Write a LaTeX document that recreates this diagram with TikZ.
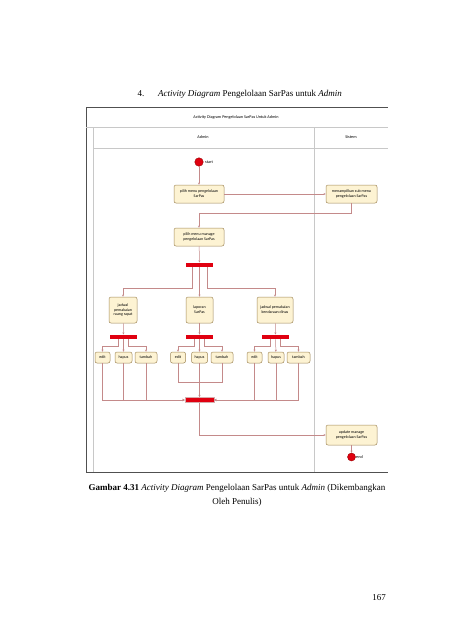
\documentclass[tikz,border=0pt]{standalone}
\usepackage{fontspec}
\setmainfont{Liberation Serif}
\newfontfamily\diagfont{Carlito}
\usetikzlibrary{arrows.meta}
\definecolor{boxfill}{HTML}{FDF3D3}
\definecolor{boxdraw}{HTML}{A08858}
\definecolor{flow}{HTML}{C48A8A}
\definecolor{barred}{HTML}{E00010}
\definecolor{framegray}{HTML}{C8C8C8}
\definecolor{framedark}{HTML}{505050}
\begin{document}
\begin{tikzpicture}[x=1pt,y=-1pt,
  act/.style={draw=boxdraw, fill=boxfill, rounded corners=2pt, line width=0.5pt,
    font=\diagfont\fontsize{4}{4.8}\selectfont, align=center, inner sep=0pt},
  small/.style={act, minimum height=11pt},
  forkbar/.style={fill=barred, draw=none, minimum width=27pt, minimum height=4.5pt, inner sep=0pt},
  flowline/.style={draw=flow, line width=0.5pt, -{Stealth[length=2.2pt,width=2pt]}},
  plain/.style={draw=flow, line width=0.5pt},
  lbl/.style={font=\diagfont\fontsize{4.2}{5}\selectfont, inner sep=0pt},
  bodytext/.style={font=\fontsize{9}{11}\selectfont, inner sep=0pt}]
\useasboundingbox[fill=white] (0,0) rectangle (453,640);

% title
\node[bodytext] (num) at (141,94) {4.};
\node[bodytext, anchor=west] (title) at (158,94) {\textit{Activity Diagram} Pengelolaan SarPas untuk \textit{Admin}};

% frame
\draw[framedark, line width=0.8pt] (86,107) -- (388,107);
\draw[framedark, line width=0.8pt] (86,472) -- (388,472);
\draw[framedark, line width=0.6pt] (86,107) -- (86,472);
\draw[framegray, line width=0.6pt] (86,127) -- (388,127);
\draw[framegray, line width=0.6pt] (93,148) -- (388,148);
\draw[framegray, line width=0.6pt] (93,127) -- (93,472);
\draw[framegray, line width=0.6pt] (314,127) -- (314,472);
\node[lbl] (hdr) at (236,117) {Activity Diagram Pengelolaan SarPas Untuk Admin};
\node[lbl] (ladmin) at (203,137.5) {Admin};
\node[lbl] (lsistem) at (351,137.5) {Sistem};

% start
\node[circle, fill=barred, draw=red!60!black, line width=0.4pt, minimum size=8.5pt, inner sep=0pt] (start) at (199,162) {};
\node[lbl, anchor=west] (startlbl) at (205,162) {start};

% actions
\node[act, minimum width=50pt, minimum height=18pt] (b1) at (199,194) {pilih menu pengelolaan\\SarPas};
\node[act, minimum width=51pt, minimum height=18pt] (b2) at (351.5,194) {menampilkan sub menu\\pengelolaan SarPas};
\node[act, minimum width=50pt, minimum height=18pt] (b3) at (199,237) {pilih menu manage\\pengelolaan SarPas};
\node[forkbar] (f1) at (199.5,265) {};
\node[act, minimum width=28pt, minimum height=26pt] (jr) at (123,310) {jadwal\\pemakaian\\ruang rapat};
\node[act, minimum width=27pt, minimum height=26pt] (lap) at (199.5,310) {laporan\\SarPas};
\node[act, minimum width=36pt, minimum height=26pt] (jk) at (275,310) {jadwal pemakaian\\kendaraan dinas};
\node[forkbar] (fa) at (123.5,337) {};
\node[forkbar] (fb) at (199.5,337) {};
\node[forkbar] (fc) at (275.5,337) {};

\node[small, minimum width=15pt] (e1) at (102.5,357.5) {edit};
\node[small, minimum width=17pt] (h1) at (123.5,357.5) {hapus};
\node[small, minimum width=22pt] (t1) at (146,357.5) {tambah};
\node[small, minimum width=15pt] (e2) at (178,357.5) {edit};
\node[small, minimum width=16pt] (h2) at (199.5,357.5) {hapus};
\node[small, minimum width=22pt] (t2) at (222,357.5) {tambah};
\node[small, minimum width=15pt] (e3) at (254.5,357.5) {edit};
\node[small, minimum width=16pt] (h3) at (276,357.5) {hapus};
\node[small, minimum width=23pt] (t3) at (298.5,357.5) {tambah};

\node[forkbar, minimum width=29pt, minimum height=5pt, draw=flow!70, line width=0.6pt] (jn) at (199.5,400) {};
\node[act, minimum width=51pt, minimum height=20pt] (up) at (351.5,435) {update manage\\pengelolaan SarPas};
\node[circle, fill=barred, draw=red!60!black, line width=0.4pt, minimum size=8pt, inner sep=0pt] (fin) at (351.5,457) {};
\node[lbl, anchor=west] (endlbl) at (356,457) {end};

% flows
\draw[flowline] (start) -- (b1);
\draw[flowline] (b1) -- (b2);
\draw[flowline] (b2.south) -- ++(0,10) -| (b3.north);
\draw[flowline] (b3) -- (f1);
\draw[flowline] (f1.south west) ++(6,0) -- ++(0,21) -| (jr.north);
\draw[flowline] (f1) -- (lap);
\draw[flowline] (f1.south east) ++(-6,0) -- ++(0,21) -| (jk.north);
\draw[flowline] (jr) -- (fa);
\draw[flowline] (lap) -- (fb);
\draw[flowline] (jk) -- (fc);

\draw[flowline] (fa.south) ++(-5,0) -- ++(0,7) -| (e1.north);
\draw[flowline] (fa) -- (h1);
\draw[flowline] (fa.south) ++(5,0) -- ++(0,7) -| (t1.north);
\draw[flowline] (fb.south) ++(-5,0) -- ++(0,7) -| (e2.north);
\draw[flowline] (fb) -- (h2);
\draw[flowline] (fb.south) ++(5,0) -- ++(0,7) -| (t2.north);
\draw[flowline] (fc.south) ++(-5,0) -- ++(0,7) -| (e3.north);
\draw[flowline] (fc) -- (h3);
\draw[flowline] (fc.south) ++(5,0) -- ++(0,7) -| (t3.north);

\draw[flowline] (e1.south) |- (jn.west);
\draw[flowline] (h1.south) |- (jn.west);
\draw[flowline] (t1.south) |- (jn.west);
\draw[plain] (e2.south) -- ++(0,19) -| (t2.south);
\draw[flowline] (h2) -- (jn);
\draw[flowline] (e3.south) |- (jn.east);
\draw[flowline] (h3.south) |- (jn.east);
\draw[flowline] (t3.south) |- (jn.east);

\draw[flowline] (jn.south) |- (up.west);
\draw[flowline] (up) -- (fin);

% caption
\node[bodytext] (cap1) at (237,488) {\textbf{Gambar 4.31} \textit{Activity Diagram} Pengelolaan SarPas untuk \textit{Admin} (Dikembangkan};
\node[bodytext] (cap2) at (237,502) {Oleh Penulis)};
\node[bodytext] (page) at (379,598) {167};
\end{tikzpicture}
\end{document}
